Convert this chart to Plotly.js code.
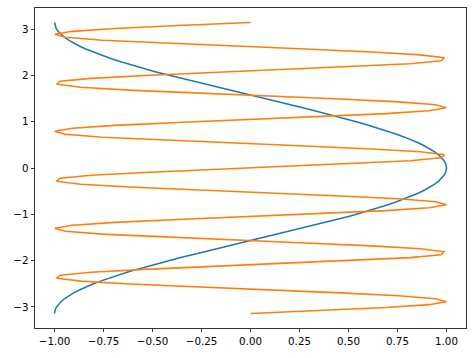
<!DOCTYPE html>
<html>
<head>
<meta charset="utf-8">
<script src="https://cdn.plot.ly/plotly-3.0.1.min.js"></script>
<style>html,body{margin:0;padding:0;background:#fff;}#chart{width:474px;height:358px;}</style>
</head>
<body>
<div id="chart"></div>
<script>
var yVals = [-3.1416,-3.0781,-3.0147,-2.9512,-2.8877,-2.8243,-2.7608,-2.6973,-2.6339,-2.5704,
-2.5069,-2.4435,-2.3800,-2.3165,-2.2531,-2.1896,-2.1261,-2.0627,-1.9992,-1.9357,
-1.8723,-1.8088,-1.7453,-1.6819,-1.6184,-1.5549,-1.4915,-1.4280,-1.3645,-1.3011,
-1.2376,-1.1741,-1.1107,-1.0472,-0.9837,-0.9203,-0.8568,-0.7933,-0.7299,-0.6664,
-0.6029,-0.5395,-0.4760,-0.4125,-0.3491,-0.2856,-0.2221,-0.1587,-0.0952,-0.0317,
0.0317,0.0952,0.1587,0.2221,0.2856,0.3491,0.4125,0.4760,0.5395,0.6029,
0.6664,0.7299,0.7933,0.8568,0.9203,0.9837,1.0472,1.1107,1.1741,1.2376,
1.3011,1.3645,1.4280,1.4915,1.5549,1.6184,1.6819,1.7453,1.8088,1.8723,
1.9357,1.9992,2.0627,2.1261,2.1896,2.2531,2.3165,2.3800,2.4435,2.5069,
2.5704,2.6339,2.6973,2.7608,2.8243,2.8877,2.9512,3.0147,3.0781,3.1416];

var blueX = [-1.0000,-0.9980,-0.9920,-0.9819,-0.9679,-0.9501,-0.9284,-0.9029,-0.8738,-0.8413,
-0.8053,-0.7660,-0.7237,-0.6785,-0.6306,-0.5801,-0.5272,-0.4723,-0.4154,-0.3569,
-0.2969,-0.2358,-0.1736,-0.1108,-0.0476,0.0159,0.0792,0.1423,0.2048,0.2665,
0.3271,0.3863,0.4441,0.5000,0.5539,0.6056,0.6549,0.7015,0.7453,0.7861,
0.8237,0.8580,0.8888,0.9161,0.9397,0.9595,0.9754,0.9874,0.9955,0.9995,
0.9995,0.9955,0.9874,0.9754,0.9595,0.9397,0.9161,0.8888,0.8580,0.8237,
0.7861,0.7453,0.7015,0.6549,0.6056,0.5539,0.5000,0.4441,0.3863,0.3271,
0.2665,0.2048,0.1423,0.0792,0.0159,-0.0476,-0.1108,-0.1736,-0.2358,-0.2969,
-0.3569,-0.4154,-0.4723,-0.5272,-0.5801,-0.6306,-0.6785,-0.7237,-0.7660,-0.8053,
-0.8413,-0.8738,-0.9029,-0.9284,-0.9501,-0.9679,-0.9819,-0.9920,-0.9980,-1.0000];

var orangeX = [0,0.3717,0.6901,0.9096,0.9989,0.9450,0.7557,0.4582,0.0951,-0.2817,
-0.6182,-0.8660,-0.9899,-0.9718,-0.8146,-0.5406,-0.1893,0.1893,0.5406,0.8146,
0.9718,0.9899,0.8660,0.6182,0.2817,-0.0951,-0.4582,-0.7557,-0.9450,-0.9989,
-0.9096,-0.6901,-0.3717,
0,0.3717,0.6901,0.9096,0.9989,0.9450,0.7557,0.4582,0.0951,-0.2817,
-0.6182,-0.8660,-0.9899,-0.9718,-0.8146,-0.5406,-0.1893,0.1893,0.5406,0.8146,
0.9718,0.9899,0.8660,0.6182,0.2817,-0.0951,-0.4582,-0.7557,-0.9450,-0.9989,
-0.9096,-0.6901,-0.3717,
0,0.3717,0.6901,0.9096,0.9989,0.9450,0.7557,0.4582,0.0951,-0.2817,
-0.6182,-0.8660,-0.9899,-0.9718,-0.8146,-0.5406,-0.1893,0.1893,0.5406,0.8146,
0.9718,0.9899,0.8660,0.6182,0.2817,-0.0951,-0.4582,-0.7557,-0.9450,-0.9989,
-0.9096,-0.6901,-0.3717,
0];

var xTickVals = [-1, -0.75, -0.5, -0.25, 0, 0.25, 0.5, 0.75, 1];
var xTickText = ["\u22121.00", "\u22120.75", "\u22120.50", "\u22120.25", "0.00", "0.25", "0.50", "0.75", "1.00"];
var yTickVals = [-3, -2, -1, 0, 1, 2, 3];
var yTickText = ["\u22123", "\u22122", "\u22121", "0", "1", "2", "3"];

var tickFont = {family: "DejaVu Sans, sans-serif", size: 10.3, color: "#000"};

var traces = [
  {x: blueX, y: yVals, type: "scatter", mode: "lines", line: {color: "#1f77b4", width: 1.55}},
  {x: orangeX, y: yVals, type: "scatter", mode: "lines", line: {color: "#ff7f0e", width: 1.55}}
];

var axisCommon = {
  showgrid: false, zeroline: false, showline: true, linecolor: "#000", linewidth: 0.8,
  mirror: true, ticks: "outside", ticklen: 3.6, tickwidth: 0.8, tickcolor: "#000",
  tickfont: tickFont, tickmode: "array"
};

var layout = {
  width: 474, height: 358,
  margin: {l: 35, r: 8, t: 8, b: 30, pad: 0},
  paper_bgcolor: "#fff", plot_bgcolor: "#fff",
  showlegend: false,
  xaxis: Object.assign({}, axisCommon, {range: [-1.1, 1.0995], tickvals: xTickVals, ticktext: xTickText}),
  yaxis: Object.assign({}, axisCommon, {range: [-3.4558, 3.4558], tickvals: yTickVals, ticktext: yTickText})
};

Plotly.newPlot("chart", traces, layout, {staticPlot: true, displayModeBar: false});
</script>
</body>
</html>
